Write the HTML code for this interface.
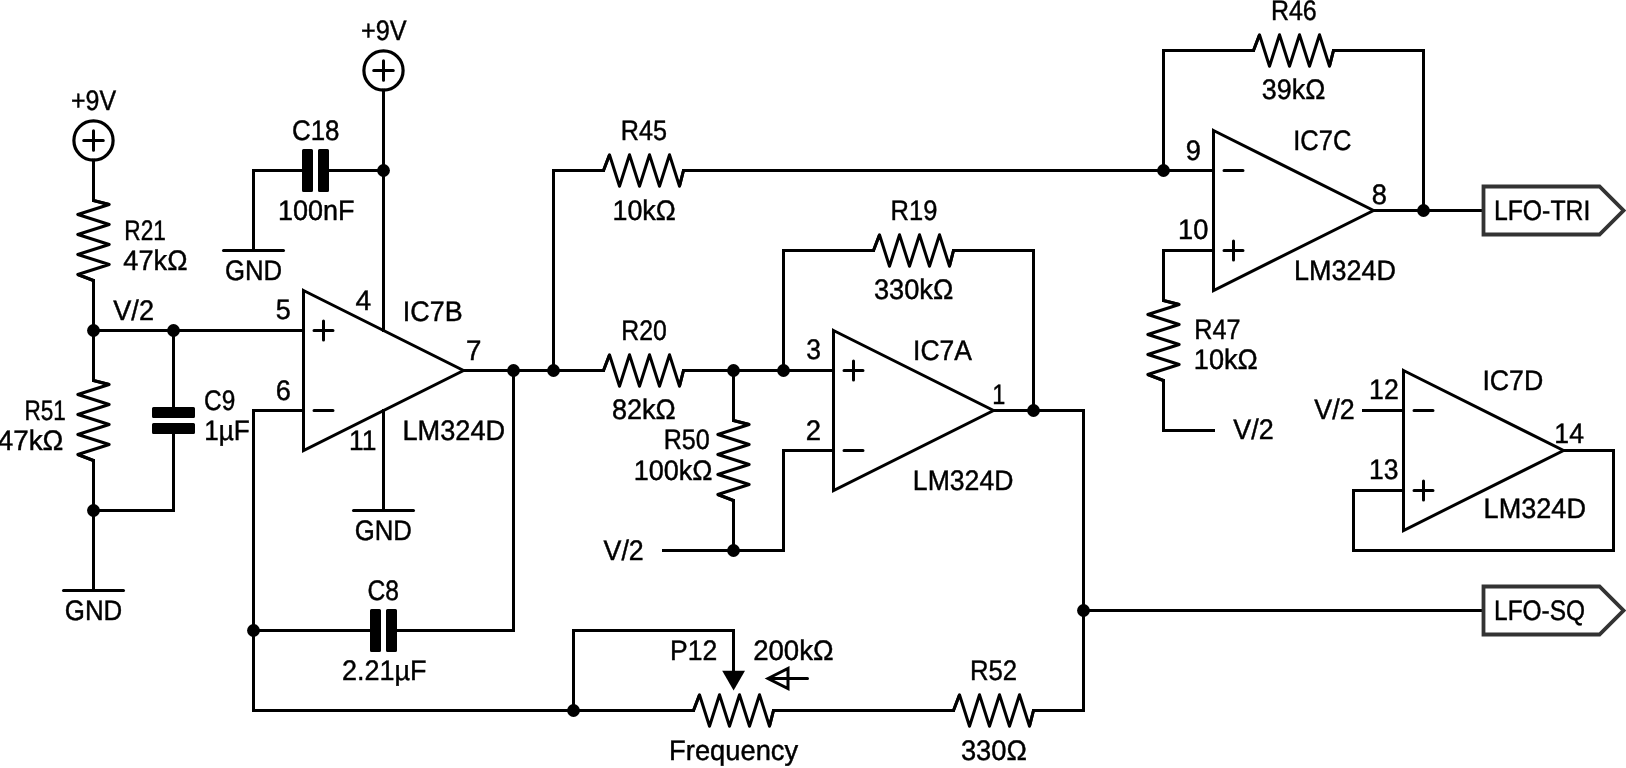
<!DOCTYPE html>
<html><head><meta charset="utf-8"><style>
html,body{margin:0;padding:0;background:#fff;width:1626px;height:768px;overflow:hidden}
svg{display:block;will-change:transform}
path{fill:none;stroke:#000;stroke-width:3;stroke-linejoin:miter;stroke-linecap:square}
path.z{stroke-linejoin:round;stroke-linecap:butt}
path.c{stroke-linecap:butt}
path.s{stroke-linecap:round}
path.f,circle.f{fill:#000;stroke:none}
circle.o{fill:none;stroke:#000;stroke-width:3.2}
rect.p{fill:#000;stroke:#000;stroke-width:3;stroke-linejoin:round}
path.pt{stroke:#333;stroke-width:3.8}
text{font-family:"Liberation Sans",sans-serif;font-size:28.2px;fill:#000;stroke:#000;stroke-width:0.45;text-rendering:geometricPrecision}
</style></head><body>
<svg width="1626" height="768" viewBox="0 0 1626 768">
<rect width="1626" height="768" fill="#fff"/>
<circle cx="93.5" cy="140.5" r="19.6" class="o"/>
<path class="s" d="M83.7,140.5 L103.3,140.5 M93.5,130.7 L93.5,150.3"/>
<path d="M93.5,160.2 L93.5,200.5"/>
<path class="z" d="M93.5,200.5 L109.2,204.5 L77.8,214.5 L109.2,224.5 L77.8,234.5 L109.2,244.5 L77.8,254.5 L109.2,264.5 L77.8,274.5 L93.5,280.5"/>
<path class="c" d="M93.5,196.5 L93.5,200.5 L109.2,204.5 M77.8,274.5 L93.5,280.5 L93.5,284.5"/>
<path d="M93.5,280.5 L93.5,380.5"/>
<path class="z" d="M93.5,380.5 L109.2,384.5 L77.8,394.5 L109.2,404.5 L77.8,414.5 L109.2,424.5 L77.8,434.5 L109.2,444.5 L77.8,454.5 L93.5,460.5"/>
<path class="c" d="M93.5,376.5 L93.5,380.5 L109.2,384.5 M77.8,454.5 L93.5,460.5 L93.5,464.5"/>
<path d="M93.5,460.5 L93.5,590.5"/>
<path class="s" d="M63.5,590.5 L123.5,590.5"/>
<path d="M93.5,330.5 L303.5,330.5"/>
<circle cx="93.5" cy="330.5" r="6.4" class="f"/>
<circle cx="173.5" cy="330.5" r="6.4" class="f"/>
<path d="M173.5,330.5 L173.5,407.5"/>
<rect class="p" x="153.5" y="408.5" width="40" height="8"/>
<rect class="p" x="153.5" y="424.5" width="40" height="8"/>
<path d="M173.5,433.5 L173.5,510.5 L93.5,510.5"/>
<circle cx="93.5" cy="510.5" r="6.4" class="f"/>
<circle cx="383.5" cy="70.5" r="19.6" class="o"/>
<path class="s" d="M373.7,70.5 L393.3,70.5 M383.5,60.7 L383.5,80.3"/>
<path d="M383.5,90.2 L383.5,330.5"/>
<circle cx="383.5" cy="170.5" r="6.4" class="f"/>
<path d="M383.5,170.5 L329,170.5"/>
<rect class="p" x="303.5" y="150.5" width="8" height="40"/>
<rect class="p" x="319.5" y="150.5" width="8" height="40"/>
<path d="M302,170.5 L253.5,170.5 L253.5,250.5"/>
<path class="s" d="M223.5,250.5 L283.5,250.5"/>
<path class="t" d="M303.5,290.5 L463.5,370.5 L303.5,450.5 Z"/>
<path class="s" d="M314.0,330.5 L333.0,330.5 M323.5,321.0 L323.5,340.0 M314.0,410.5 L333.0,410.5"/>
<path d="M383.5,410.5 L383.5,510.5"/>
<path class="s" d="M353.5,510.5 L413.5,510.5"/>
<path d="M303.5,410.5 L253.5,410.5 L253.5,710.5 L693.5,710.5"/>
<circle cx="253.5" cy="630.5" r="6.4" class="f"/>
<path d="M253.5,630.5 L370,630.5"/>
<rect class="p" x="371.5" y="610.5" width="8" height="40"/>
<rect class="p" x="387.5" y="610.5" width="8" height="40"/>
<path d="M397,630.5 L513.5,630.5 L513.5,370.5"/>
<path d="M463.5,370.5 L603.5,370.5"/>
<circle cx="513.5" cy="370.5" r="6.4" class="f"/>
<circle cx="553.5" cy="370.5" r="6.4" class="f"/>
<path d="M553.5,370.5 L553.5,170.5 L603.5,170.5"/>
<path class="z" d="M603.5,170.5 L609.5,154.8 L619.5,186.2 L629.5,154.8 L639.5,186.2 L649.5,154.8 L659.5,186.2 L669.5,154.8 L679.5,186.2 L683.5,170.5"/>
<path class="c" d="M599.5,170.5 L603.5,170.5 L609.5,154.8 M679.5,186.2 L683.5,170.5 L687.5,170.5"/>
<path d="M683.5,170.5 L1213.5,170.5"/>
<circle cx="1163.5" cy="170.5" r="6.4" class="f"/>
<path class="z" d="M603.5,370.5 L609.5,354.8 L619.5,386.2 L629.5,354.8 L639.5,386.2 L649.5,354.8 L659.5,386.2 L669.5,354.8 L679.5,386.2 L683.5,370.5"/>
<path class="c" d="M599.5,370.5 L603.5,370.5 L609.5,354.8 M679.5,386.2 L683.5,370.5 L687.5,370.5"/>
<path d="M683.5,370.5 L833.5,370.5"/>
<circle cx="733.5" cy="370.5" r="6.4" class="f"/>
<circle cx="783.5" cy="370.5" r="6.4" class="f"/>
<path d="M733.5,370.5 L733.5,420.5"/>
<path class="z" d="M733.5,420.5 L749.2,424.5 L717.8,434.5 L749.2,444.5 L717.8,454.5 L749.2,464.5 L717.8,474.5 L749.2,484.5 L717.8,494.5 L733.5,500.5"/>
<path class="c" d="M733.5,416.5 L733.5,420.5 L749.2,424.5 M717.8,494.5 L733.5,500.5 L733.5,504.5"/>
<path d="M733.5,500.5 L733.5,550.5"/>
<path d="M663.5,550.5 L783.5,550.5 L783.5,450.5 L833.5,450.5"/>
<circle cx="733.5" cy="550.5" r="6.4" class="f"/>
<path d="M783.5,370.5 L783.5,250.5 L873.5,250.5"/>
<path class="z" d="M873.5,250.5 L879.5,234.8 L889.5,266.2 L899.5,234.8 L909.5,266.2 L919.5,234.8 L929.5,266.2 L939.5,234.8 L949.5,266.2 L953.5,250.5"/>
<path class="c" d="M869.5,250.5 L873.5,250.5 L879.5,234.8 M949.5,266.2 L953.5,250.5 L957.5,250.5"/>
<path d="M953.5,250.5 L1033.5,250.5 L1033.5,410.5"/>
<path class="t" d="M833.5,330.5 L993.5,410.5 L833.5,490.5 Z"/>
<path class="s" d="M844.0,370.5 L863.0,370.5 M853.5,361.0 L853.5,380.0 M844.0,450.5 L863.0,450.5"/>
<path d="M993.5,410.5 L1083.5,410.5 L1083.5,710.5 L1033.5,710.5"/>
<circle cx="1033.5" cy="410.5" r="6.4" class="f"/>
<circle cx="1083.5" cy="610.5" r="6.4" class="f"/>
<path d="M1083.5,610.5 L1483.5,610.5"/>
<path class="z" d="M953.5,710.5 L959.5,694.8 L969.5,726.2 L979.5,694.8 L989.5,726.2 L999.5,694.8 L1009.5,726.2 L1019.5,694.8 L1029.5,726.2 L1033.5,710.5"/>
<path class="c" d="M949.5,710.5 L953.5,710.5 L959.5,694.8 M1029.5,726.2 L1033.5,710.5 L1037.5,710.5"/>
<path d="M953.5,710.5 L773.5,710.5"/>
<path class="z" d="M693.5,710.5 L699.5,694.8 L709.5,726.2 L719.5,694.8 L729.5,726.2 L739.5,694.8 L749.5,726.2 L759.5,694.8 L769.5,726.2 L773.5,710.5"/>
<path class="c" d="M689.5,710.5 L693.5,710.5 L699.5,694.8 M769.5,726.2 L773.5,710.5 L777.5,710.5"/>
<circle cx="573.5" cy="710.5" r="6.4" class="f"/>
<path d="M573.5,710.5 L573.5,630.5 L733.5,630.5 L733.5,671"/>
<path class="f" d="M722.2,670.8 L745,670.8 L733.6,690.4 Z"/>
<path class="s" d="M768,678.5 L788,668.5 L788,688.5 Z M768,678.5 L807.5,678.5"/>
<path class="t" d="M1213.5,130.5 L1373.5,210.5 L1213.5,290.5 Z"/>
<path class="s" d="M1224.0,250.5 L1243.0,250.5 M1233.5,241.0 L1233.5,260.0 M1224.0,170.5 L1243.0,170.5"/>
<path d="M1163.5,170.5 L1163.5,50.5 L1253.5,50.5"/>
<path class="z" d="M1253.5,50.5 L1259.5,34.8 L1269.5,66.2 L1279.5,34.8 L1289.5,66.2 L1299.5,34.8 L1309.5,66.2 L1319.5,34.8 L1329.5,66.2 L1333.5,50.5"/>
<path class="c" d="M1249.5,50.5 L1253.5,50.5 L1259.5,34.8 M1329.5,66.2 L1333.5,50.5 L1337.5,50.5"/>
<path d="M1333.5,50.5 L1423.5,50.5 L1423.5,210.5"/>
<path d="M1373.5,210.5 L1483.5,210.5"/>
<circle cx="1423.5" cy="210.5" r="6.4" class="f"/>
<path class="pt" d="M1483.5,186.5 L1599.5,186.5 L1623.5,210.5 L1599.5,234.5 L1483.5,234.5 Z"/>
<path class="pt" d="M1483.5,586.5 L1599.5,586.5 L1623.5,610.5 L1599.5,634.5 L1483.5,634.5 Z"/>
<path d="M1213.5,250.5 L1163.5,250.5 L1163.5,300.5"/>
<path class="z" d="M1163.5,300.5 L1179.2,304.5 L1147.8,314.5 L1179.2,324.5 L1147.8,334.5 L1179.2,344.5 L1147.8,354.5 L1179.2,364.5 L1147.8,374.5 L1163.5,380.5"/>
<path class="c" d="M1163.5,296.5 L1163.5,300.5 L1179.2,304.5 M1147.8,374.5 L1163.5,380.5 L1163.5,384.5"/>
<path d="M1163.5,380.5 L1163.5,430.5 L1213.5,430.5"/>
<path class="t" d="M1403.5,370.5 L1563.5,450.5 L1403.5,530.5 Z"/>
<path class="s" d="M1414.0,490.5 L1433.0,490.5 M1423.5,481.0 L1423.5,500.0 M1414.0,410.5 L1433.0,410.5"/>
<path d="M1363.5,410.5 L1403.5,410.5"/>
<path d="M1563.5,450.5 L1613.5,450.5 L1613.5,550.5 L1353.5,550.5 L1353.5,490.5 L1403.5,490.5"/>
<text x="70.96" y="109.80" textLength="45.07" lengthAdjust="spacingAndGlyphs">+9V</text>
<text x="361.00" y="39.70" textLength="45.64" lengthAdjust="spacingAndGlyphs">+9V</text>
<text x="64.77" y="619.70" textLength="57.48" lengthAdjust="spacingAndGlyphs">GND</text>
<text x="225.04" y="279.90" textLength="57.17" lengthAdjust="spacingAndGlyphs">GND</text>
<text x="354.67" y="539.70" textLength="57.18" lengthAdjust="spacingAndGlyphs">GND</text>
<text x="124.30" y="240.00" textLength="41.59" lengthAdjust="spacingAndGlyphs">R21</text>
<text x="123.33" y="269.80" textLength="64.16" lengthAdjust="spacingAndGlyphs">47kΩ</text>
<text x="113.29" y="320.00" textLength="40.69" lengthAdjust="spacingAndGlyphs">V/2</text>
<text x="24.43" y="419.90" textLength="41.42" lengthAdjust="spacingAndGlyphs">R51</text>
<text x="-2.30" y="449.50" textLength="65.73" lengthAdjust="spacingAndGlyphs">47kΩ</text>
<text x="204.09" y="409.90" textLength="31.21" lengthAdjust="spacingAndGlyphs">C9</text>
<text x="204.24" y="439.70" textLength="45.55" lengthAdjust="spacingAndGlyphs">1µF</text>
<text x="291.93" y="139.50" textLength="47.60" lengthAdjust="spacingAndGlyphs">C18</text>
<text x="277.97" y="219.60" textLength="76.59" lengthAdjust="spacingAndGlyphs">100nF</text>
<text x="275.66" y="319.30" textLength="15.02" lengthAdjust="spacingAndGlyphs">5</text>
<text x="275.76" y="399.50" textLength="15.10" lengthAdjust="spacingAndGlyphs">6</text>
<text x="355.57" y="309.70">4</text>
<text x="349.12" y="449.90" textLength="27.40" lengthAdjust="spacingAndGlyphs">11</text>
<text x="402.83" y="320.50" textLength="59.79" lengthAdjust="spacingAndGlyphs">IC7B</text>
<text x="402.38" y="440.00" textLength="102.84" lengthAdjust="spacingAndGlyphs">LM324D</text>
<text x="465.92" y="360.10" textLength="15.42" lengthAdjust="spacingAndGlyphs">7</text>
<text x="620.71" y="140.00" textLength="46.19" lengthAdjust="spacingAndGlyphs">R45</text>
<text x="612.52" y="219.80" textLength="63.36" lengthAdjust="spacingAndGlyphs">10kΩ</text>
<text x="621.25" y="339.90" textLength="45.45" lengthAdjust="spacingAndGlyphs">R20</text>
<text x="612.01" y="419.30" textLength="63.86" lengthAdjust="spacingAndGlyphs">82kΩ</text>
<text x="806.21" y="359.30" textLength="14.74" lengthAdjust="spacingAndGlyphs">3</text>
<text x="805.84" y="440.10" textLength="15.29" lengthAdjust="spacingAndGlyphs">2</text>
<text x="890.56" y="220.20" textLength="46.84" lengthAdjust="spacingAndGlyphs">R19</text>
<text x="873.90" y="299.40" textLength="79.39" lengthAdjust="spacingAndGlyphs">330kΩ</text>
<text x="603.56" y="559.50" textLength="40.20" lengthAdjust="spacingAndGlyphs">V/2</text>
<text x="663.63" y="449.20" textLength="46.07" lengthAdjust="spacingAndGlyphs">R50</text>
<text x="633.70" y="479.90" textLength="78.74" lengthAdjust="spacingAndGlyphs">100kΩ</text>
<text x="913.07" y="359.90" textLength="58.90" lengthAdjust="spacingAndGlyphs">IC7A</text>
<text x="912.84" y="490.10" textLength="100.59" lengthAdjust="spacingAndGlyphs">LM324D</text>
<text x="992.14" y="404.30" textLength="13.06" lengthAdjust="spacingAndGlyphs">1</text>
<text x="1270.92" y="19.70" textLength="45.85" lengthAdjust="spacingAndGlyphs">R46</text>
<text x="1261.72" y="99.40" textLength="63.55" lengthAdjust="spacingAndGlyphs">39kΩ</text>
<text x="1185.82" y="160.20" textLength="15.17" lengthAdjust="spacingAndGlyphs">9</text>
<text x="1178.10" y="239.40" textLength="30.31" lengthAdjust="spacingAndGlyphs">10</text>
<text x="1293.29" y="149.50" textLength="58.17" lengthAdjust="spacingAndGlyphs">IC7C</text>
<text x="1293.92" y="279.70" textLength="101.98" lengthAdjust="spacingAndGlyphs">LM324D</text>
<text x="1371.86" y="203.50" textLength="15.18" lengthAdjust="spacingAndGlyphs">8</text>
<text x="1493.92" y="219.60" textLength="96.42" lengthAdjust="spacingAndGlyphs">LFO-TRI</text>
<text x="1194.19" y="339.25" textLength="46.30" lengthAdjust="spacingAndGlyphs">R47</text>
<text x="1193.86" y="368.50" textLength="64.03" lengthAdjust="spacingAndGlyphs">10kΩ</text>
<text x="1233.28" y="438.50" textLength="40.41" lengthAdjust="spacingAndGlyphs">V/2</text>
<text x="1314.32" y="419.40" textLength="40.29" lengthAdjust="spacingAndGlyphs">V/2</text>
<text x="1369.06" y="399.10" textLength="29.68" lengthAdjust="spacingAndGlyphs">12</text>
<text x="1369.11" y="479.30" textLength="29.48" lengthAdjust="spacingAndGlyphs">13</text>
<text x="1554.36" y="443.40" textLength="29.59" lengthAdjust="spacingAndGlyphs">14</text>
<text x="1482.39" y="389.50" textLength="60.95" lengthAdjust="spacingAndGlyphs">IC7D</text>
<text x="1483.58" y="518.40" textLength="102.37" lengthAdjust="spacingAndGlyphs">LM324D</text>
<text x="367.54" y="599.80" textLength="31.46" lengthAdjust="spacingAndGlyphs">C8</text>
<text x="342.03" y="680.20" textLength="84.54" lengthAdjust="spacingAndGlyphs">2.21µF</text>
<text x="670.05" y="659.90" textLength="47.23" lengthAdjust="spacingAndGlyphs">P12</text>
<text x="753.17" y="659.90" textLength="80.47" lengthAdjust="spacingAndGlyphs">200kΩ</text>
<text x="669.12" y="759.70" textLength="129.08" lengthAdjust="spacingAndGlyphs">Frequency</text>
<text x="969.91" y="679.50" textLength="47.14" lengthAdjust="spacingAndGlyphs">R52</text>
<text x="960.90" y="760.00" textLength="66.00" lengthAdjust="spacingAndGlyphs">330Ω</text>
<text x="1494.06" y="619.50" textLength="91.07" lengthAdjust="spacingAndGlyphs">LFO-SQ</text>
</svg></body></html>
